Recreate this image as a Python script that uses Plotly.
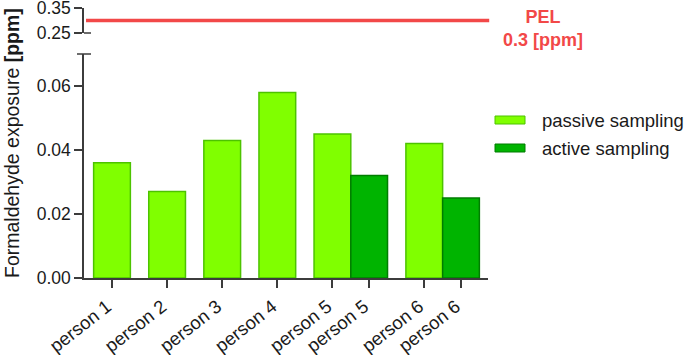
import plotly.graph_objects as go

# ---- data ----
persons = ["person 1", "person 2", "person 3", "person 4", "person 5", "person 6"]
passive = [0.036, 0.027, 0.043, 0.058, 0.045, 0.042]
active = [None, None, None, None, 0.032, 0.025]
pel_value = 0.3
y_ticks_low = [0.00, 0.02, 0.04, 0.06]
y_ticks_high = [0.25, 0.35]

# ---- layout of bar slots (one slot per bar, gap between persons) ----
GAP = 0.5
pos_passive, pos_active, tickvals, ticktext = [], [], [], []
cur = 0.0
for i, name in enumerate(persons):
    if i > 0:
        cur += 1 + GAP
    pos_passive.append(cur)
    tickvals.append(cur)
    ticktext.append(name)
    if active[i] is not None:
        cur += 1
        pos_active.append(cur)
        tickvals.append(cur)
        ticktext.append(name)
act_vals = [v for v in active if v is not None]

FONT = "Liberation Sans, Arial, Helvetica, sans-serif"
AX = "#3c3c3c"
RED = "#F24848"
PASS_FILL, PASS_EDGE = "#80FF00", "#4CC300"
ACT_FILL, ACT_EDGE = "#00B400", "#007D00"

fig = go.Figure()
fig.add_trace(go.Bar(x=pos_passive, y=passive, width=1, name="passive sampling",
                     marker=dict(color=PASS_FILL, line=dict(color=PASS_EDGE, width=1.5)),
                     yaxis="y", showlegend=False))
fig.add_trace(go.Bar(x=pos_active, y=act_vals, width=1, name="active sampling",
                     marker=dict(color=ACT_FILL, line=dict(color=ACT_EDGE, width=1.5)),
                     yaxis="y", showlegend=False))

W, H = 685, 355
L, R, T, B = 84, 197, 8, 77
pw, ph = W - L - R, H - T - B

def px_x(p):
    return (p - L) / pw

def px_y(p):
    return (H - B - p) / ph

x_left = -(112 - 84) / 36.74
x_right = tickvals[-1] + (488 - 461) / 36.74

axis_common = dict(ticks="outside", ticklen=8, tickwidth=1.5, tickcolor=AX,
                   showline=True, linecolor=AX, linewidth=1.5, showgrid=False,
                   zeroline=False, automargin=False, ticklabeloverflow="allow")

fig.update_layout(
    width=W, height=H,
    margin=dict(l=L, r=R, t=T, b=B),
    paper_bgcolor="white", plot_bgcolor="white",
    barmode="overlay",
    font=dict(family=FONT, color="#1a1a1a", size=18),
    xaxis=dict(range=[x_left, x_right], tickmode="array", tickvals=tickvals, ticktext=ticktext,
               tickangle=-38, tickfont=dict(size=18.5), anchor="y",
               ticklabelshift=-5, ticklabelstandoff=1, **axis_common),
    yaxis=dict(domain=[0, px_y(54)], range=[0, 0.07], tickmode="array", tickvals=y_ticks_low,
               tickformat=".2f", tickfont=dict(size=17.5), anchor="x", **axis_common),
    yaxis2=dict(domain=[px_y(33), 1], range=[0.25, 0.35001], tickmode="array", tickvals=y_ticks_high,
                tickformat=".2f", tickfont=dict(size=17.5), anchor="x", **axis_common),
)

shapes = []
# PEL line
shapes.append(dict(type="line", xref="x domain", yref="y2", x0=0.005, x1=1.003,
                   y0=pel_value, y1=pel_value, line=dict(color=RED, width=3.5)))
# axis break caps
cap = 7 / pw
shapes.append(dict(type="line", xref="paper", yref="y domain", x0=-cap, x1=cap, y0=1, y1=1,
                   line=dict(color=AX, width=1.5)))
shapes.append(dict(type="line", xref="paper", yref="y2 domain", x0=0, x1=cap, y0=0, y1=0,
                   line=dict(color=AX, width=1.5)))
# legend swatches
shapes.append(dict(type="rect", xref="paper", yref="paper", x0=px_x(495), x1=px_x(525),
                   y0=px_y(124), y1=px_y(116), fillcolor=PASS_FILL, line=dict(color=PASS_EDGE, width=1)))
shapes.append(dict(type="rect", xref="paper", yref="paper", x0=px_x(495), x1=px_x(525),
                   y0=px_y(152), y1=px_y(144), fillcolor=ACT_FILL, line=dict(color=ACT_EDGE, width=1)))
fig.update_layout(shapes=shapes)

ann = []
ann.append(dict(text="passive sampling", xref="paper", yref="paper", x=px_x(540), y=px_y(120),
                xanchor="left", yanchor="middle", showarrow=False, font=dict(size=18.5)))
ann.append(dict(text="active sampling", xref="paper", yref="paper", x=px_x(540), y=px_y(148),
                xanchor="left", yanchor="middle", showarrow=False, font=dict(size=18.5)))
ann.append(dict(text="<b>PEL<br>%s [ppm]</b>" % pel_value, xref="paper", yref="paper",
                x=px_x(543), y=px_y(28), xanchor="center", yanchor="middle", showarrow=False,
                font=dict(size=18, color=RED)))
ann.append(dict(text="Formaldehyde exposure <b>[ppm]</b>", xref="paper", yref="paper",
                x=px_x(12), y=px_y(143), xanchor="center", yanchor="middle", textangle=-90,
                showarrow=False, font=dict(size=19.5)))
fig.update_layout(annotations=ann)

fig.write_html("out.html", config={"displayModeBar": False},
               post_script="document.body.style.margin='0';")
